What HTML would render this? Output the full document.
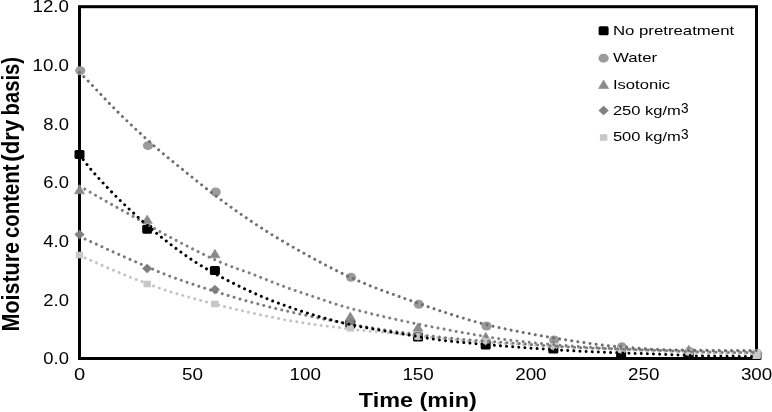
<!DOCTYPE html>
<html><head><meta charset="utf-8"><title>Moisture content vs time</title>
<style>html,body{margin:0;padding:0;background:#fff}body{width:772px;height:412px;overflow:hidden}</style></head>
<body>
<svg width="772" height="412" viewBox="0 0 772 412" style="display:block">
<rect width="772" height="412" fill="#fff"/>
<rect x="79.5" y="6.7" width="677" height="351.8" fill="none" stroke="#000" stroke-width="3"/>
<g><rect x="74.5" y="149.9" width="10" height="9" rx="1.6" fill="#000000"/><rect x="142.2" y="224.7" width="10" height="9" rx="1.6" fill="#000000"/><rect x="209.9" y="266.0" width="10" height="9" rx="1.6" fill="#000000"/><rect x="345.3" y="319.7" width="10" height="9" rx="1.6" fill="#000000"/><rect x="413.0" y="332.6" width="10" height="9" rx="1.6" fill="#000000"/><rect x="480.7" y="340.5" width="10" height="9" rx="1.6" fill="#000000"/><rect x="548.4" y="344.6" width="10" height="9" rx="1.6" fill="#000000"/><rect x="616.1" y="350.8" width="10" height="9" rx="1.6" fill="#000000"/><rect x="683.8" y="351.1" width="10" height="9" rx="1.6" fill="#000000"/><rect x="751.5" y="351.1" width="10" height="9" rx="1.6" fill="#000000"/></g>
<g><ellipse cx="80.3" cy="70.6" rx="5.1" ry="4.45" fill="#9b9b9b"/><ellipse cx="148.0" cy="145.6" rx="5.1" ry="4.45" fill="#9b9b9b"/><ellipse cx="215.7" cy="192.0" rx="5.1" ry="4.45" fill="#9b9b9b"/><ellipse cx="351.1" cy="277.3" rx="5.1" ry="4.45" fill="#9b9b9b"/><ellipse cx="418.8" cy="304.3" rx="5.1" ry="4.45" fill="#9b9b9b"/><ellipse cx="486.5" cy="326.0" rx="5.1" ry="4.45" fill="#9b9b9b"/><ellipse cx="554.2" cy="340.0" rx="5.1" ry="4.45" fill="#9b9b9b"/><ellipse cx="621.9" cy="346.8" rx="5.1" ry="4.45" fill="#9b9b9b"/><ellipse cx="689.6" cy="351.5" rx="5.1" ry="4.45" fill="#9b9b9b"/><ellipse cx="757.3" cy="353.8" rx="5.1" ry="4.45" fill="#9b9b9b"/></g>
<g><path d="M79.5 185.4L84.6 193.8H74.4Z" fill="#8a8a8a" stroke="#8a8a8a" stroke-width="0.6" stroke-linejoin="round"/><path d="M147.2 215.0L152.3 223.4H142.1Z" fill="#8a8a8a" stroke="#8a8a8a" stroke-width="0.6" stroke-linejoin="round"/><path d="M214.9 249.3L220.0 257.7H209.8Z" fill="#8a8a8a" stroke="#8a8a8a" stroke-width="0.6" stroke-linejoin="round"/><path d="M350.3 312.1L355.4 320.5H345.2Z" fill="#8a8a8a" stroke="#8a8a8a" stroke-width="0.6" stroke-linejoin="round"/><path d="M418.0 322.9L423.1 331.3H412.9Z" fill="#8a8a8a" stroke="#8a8a8a" stroke-width="0.6" stroke-linejoin="round"/><path d="M485.7 332.3L490.8 340.7H480.6Z" fill="#8a8a8a" stroke="#8a8a8a" stroke-width="0.6" stroke-linejoin="round"/><path d="M553.4 339.6L558.5 348.0H548.3Z" fill="#8a8a8a" stroke="#8a8a8a" stroke-width="0.6" stroke-linejoin="round"/><path d="M621.1 343.7L626.2 352.1H616.0Z" fill="#8a8a8a" stroke="#8a8a8a" stroke-width="0.6" stroke-linejoin="round"/><path d="M688.8 345.2L693.9 353.6H683.7Z" fill="#8a8a8a" stroke="#8a8a8a" stroke-width="0.6" stroke-linejoin="round"/><path d="M756.5 349.0L761.6 357.4H751.4Z" fill="#8a8a8a" stroke="#8a8a8a" stroke-width="0.6" stroke-linejoin="round"/></g>
<g><path d="M79.5 230.1L84.3 234.5L79.5 238.9L74.7 234.5Z" fill="#808080" stroke="#808080" stroke-width="0.6" stroke-linejoin="round"/><path d="M147.2 264.1L152.0 268.5L147.2 272.9L142.4 268.5Z" fill="#808080" stroke="#808080" stroke-width="0.6" stroke-linejoin="round"/><path d="M214.9 285.2L219.7 289.6L214.9 294.0L210.1 289.6Z" fill="#808080" stroke="#808080" stroke-width="0.6" stroke-linejoin="round"/><path d="M350.3 318.0L355.1 322.4L350.3 326.8L345.5 322.4Z" fill="#808080" stroke="#808080" stroke-width="0.6" stroke-linejoin="round"/><path d="M418.0 331.8L422.8 336.2L418.0 340.6L413.2 336.2Z" fill="#808080" stroke="#808080" stroke-width="0.6" stroke-linejoin="round"/><path d="M485.7 336.5L490.5 340.9L485.7 345.3L480.9 340.9Z" fill="#808080" stroke="#808080" stroke-width="0.6" stroke-linejoin="round"/><path d="M553.4 341.8L558.2 346.2L553.4 350.6L548.6 346.2Z" fill="#808080" stroke="#808080" stroke-width="0.6" stroke-linejoin="round"/><path d="M621.1 345.3L625.9 349.7L621.1 354.1L616.3 349.7Z" fill="#808080" stroke="#808080" stroke-width="0.6" stroke-linejoin="round"/><path d="M688.8 347.6L693.6 352.0L688.8 356.4L684.0 352.0Z" fill="#808080" stroke="#808080" stroke-width="0.6" stroke-linejoin="round"/><path d="M756.5 349.7L761.3 354.1L756.5 358.5L751.7 354.1Z" fill="#808080" stroke="#808080" stroke-width="0.6" stroke-linejoin="round"/></g>
<g><rect x="75.8" y="251.7" width="7.4" height="6.6" fill="#c8c8c8"/><rect x="143.5" y="280.7" width="7.4" height="6.6" fill="#c8c8c8"/><rect x="211.2" y="300.7" width="7.4" height="6.6" fill="#c8c8c8"/><rect x="346.6" y="325.0" width="7.4" height="6.6" fill="#c8c8c8"/><rect x="414.3" y="333.2" width="7.4" height="6.6" fill="#c8c8c8"/><rect x="482.0" y="337.6" width="7.4" height="6.6" fill="#c8c8c8"/><rect x="549.7" y="342.9" width="7.4" height="6.6" fill="#c8c8c8"/><rect x="617.4" y="346.4" width="7.4" height="6.6" fill="#c8c8c8"/><rect x="685.1" y="348.7" width="7.4" height="6.6" fill="#c8c8c8"/><rect x="752.4" y="349.6" width="8.2" height="9.4" fill="#c8c8c8"/></g>
<path d="M79.5 255.5 L85.2 258.0 L90.9 260.5 L96.6 263.0 L102.3 265.5 L107.9 267.9 L113.6 270.3 L119.3 272.7 L125.0 275.1 L130.7 277.4 L136.4 279.6 L142.1 281.7 L147.8 283.9 L153.5 286.0 L159.1 288.0 L164.8 289.9 L170.5 291.8 L176.2 293.5 L181.9 295.1 L187.6 296.8 L193.3 298.4 L199.0 299.9 L204.7 301.5 L210.3 303.0 L216.0 304.4 L221.7 305.9 L227.4 307.3 L233.1 308.7 L238.8 310.0 L244.5 311.3 L250.2 312.6 L255.9 313.9 L261.6 315.1 L267.2 316.3 L272.9 317.4 L278.6 318.5 L284.3 319.6 L290.0 320.7 L295.7 321.6 L301.4 322.6 L307.1 323.5 L312.8 324.3 L318.4 325.1 L324.1 325.8 L329.8 326.5 L335.5 327.1 L341.2 327.8 L346.9 328.6 L352.6 329.3 L358.3 330.0 L364.0 330.6 L369.6 331.1 L375.3 331.6 L381.0 332.1 L386.7 332.7 L392.4 333.2 L398.1 333.8 L403.8 334.4 L409.5 334.9 L415.2 335.5 L420.8 336.1 L426.5 336.7 L432.2 337.3 L437.9 337.8 L443.6 338.4 L449.3 339.0 L455.0 339.6 L460.7 340.2 L466.4 340.8 L472.0 341.3 L477.7 341.7 L483.4 342.1 L489.1 342.5 L494.8 342.8 L500.5 343.2 L506.2 343.5 L511.9 343.9 L517.6 344.2 L523.2 344.5 L528.9 344.9 L534.6 345.2 L540.3 345.5 L546.0 345.8 L551.7 346.1 L557.4 346.4 L563.1 346.7 L568.8 347.0 L574.4 347.3 L580.1 347.6 L585.8 347.9 L591.5 348.2 L597.2 348.5 L602.9 348.7 L608.6 349.0 L614.3 349.3 L620.0 349.5 L625.7 349.8 L631.3 350.1 L637.0 350.3 L642.7 350.6 L648.4 350.8 L654.1 351.0 L659.8 351.2 L665.5 351.4 L671.2 351.6 L676.9 351.8 L682.5 352.0 L688.2 352.1 L693.9 352.4 L699.6 352.9 L705.3 353.3 L711.0 353.5 L716.7 353.6 L722.4 353.7 L728.1 353.7 L733.7 353.8 L739.4 353.8 L745.1 353.9 L750.8 353.9 L756.5 353.9" fill="none" stroke="#c4c4c4" stroke-width="3" stroke-linecap="round" stroke-dasharray="0.01 6.15" stroke-dashoffset="0"/>
<path d="M79.5 236.5 L85.2 239.1 L90.9 241.7 L96.6 244.3 L102.3 246.9 L107.9 249.5 L113.6 252.1 L119.3 254.6 L125.0 257.2 L130.7 259.7 L136.4 262.1 L142.1 264.6 L147.8 267.1 L153.5 269.5 L159.1 271.9 L164.8 274.2 L170.5 276.5 L176.2 278.5 L181.9 280.5 L187.6 282.5 L193.3 284.4 L199.0 286.3 L204.7 288.2 L210.3 290.0 L216.0 291.8 L221.7 293.6 L227.4 295.3 L233.1 297.0 L238.8 298.7 L244.5 300.3 L250.2 301.9 L255.9 303.4 L261.6 304.9 L267.2 306.4 L272.9 307.8 L278.6 309.2 L284.3 310.5 L290.0 311.8 L295.7 313.1 L301.4 314.4 L307.1 315.6 L312.8 316.8 L318.4 318.0 L324.1 319.2 L329.8 320.3 L335.5 321.4 L341.2 322.5 L346.9 323.6 L352.6 324.6 L358.3 325.6 L364.0 326.6 L369.6 327.5 L375.3 328.5 L381.0 329.4 L386.7 330.2 L392.4 331.1 L398.1 331.9 L403.8 332.7 L409.5 333.4 L415.2 334.2 L420.8 334.9 L426.5 335.6 L432.2 336.2 L437.9 336.9 L443.6 337.5 L449.3 338.1 L455.0 338.7 L460.7 339.2 L466.4 339.7 L472.0 340.2 L477.7 340.6 L483.4 341.0 L489.1 341.4 L494.8 341.8 L500.5 342.2 L506.2 342.6 L511.9 343.1 L517.6 343.5 L523.2 343.9 L528.9 344.4 L534.6 344.8 L540.3 345.2 L546.0 345.6 L551.7 346.0 L557.4 346.3 L563.1 346.7 L568.8 347.0 L574.4 347.3 L580.1 347.6 L585.8 347.9 L591.5 348.1 L597.2 348.3 L602.9 348.5 L608.6 348.7 L614.3 348.9 L620.0 349.1 L625.7 349.3 L631.3 349.5 L637.0 349.7 L642.7 349.9 L648.4 350.0 L654.1 350.2 L659.8 350.4 L665.5 350.6 L671.2 350.8 L676.9 351.1 L682.5 351.4 L688.2 351.6 L693.9 351.8 L699.6 352.0 L705.3 352.1 L711.0 352.2 L716.7 352.3 L722.4 352.4 L728.1 352.4 L733.7 352.5 L739.4 352.5 L745.1 352.6 L750.8 352.6 L756.5 352.6" fill="none" stroke="#7a7a7a" stroke-width="3" stroke-linecap="round" stroke-dasharray="0.01 6.15" stroke-dashoffset="0"/>
<path d="M79.5 186.0 L85.2 189.3 L90.9 192.6 L96.6 195.8 L102.3 199.1 L107.9 202.3 L113.6 205.5 L119.3 208.6 L125.0 211.8 L130.7 215.0 L136.4 218.2 L142.1 221.4 L147.8 224.7 L153.5 227.9 L159.1 231.2 L164.8 234.4 L170.5 237.4 L176.2 240.4 L181.9 243.4 L187.6 246.3 L193.3 249.2 L199.0 252.1 L204.7 254.9 L210.3 257.6 L216.0 260.2 L221.7 262.7 L227.4 265.0 L233.1 267.2 L238.8 269.3 L244.5 271.2 L250.2 273.3 L255.9 275.5 L261.6 277.8 L267.2 280.0 L272.9 282.3 L278.6 284.5 L284.3 286.6 L290.0 288.7 L295.7 290.7 L301.4 292.6 L307.1 294.5 L312.8 296.4 L318.4 298.3 L324.1 300.2 L329.8 302.2 L335.5 304.1 L341.2 305.8 L346.9 307.4 L352.6 309.0 L358.3 310.5 L364.0 311.9 L369.6 313.4 L375.3 314.7 L381.0 316.0 L386.7 317.3 L392.4 318.6 L398.1 319.9 L403.8 321.1 L409.5 322.3 L415.2 323.5 L420.8 324.6 L426.5 325.8 L432.2 326.9 L437.9 328.0 L443.6 329.0 L449.3 330.1 L455.0 331.2 L460.7 332.2 L466.4 333.2 L472.0 334.2 L477.7 335.2 L483.4 336.1 L489.1 337.1 L494.8 338.0 L500.5 338.9 L506.2 339.7 L511.9 340.4 L517.6 341.0 L523.2 341.6 L528.9 342.3 L534.6 342.8 L540.3 343.4 L546.0 343.9 L551.7 344.4 L557.4 344.9 L563.1 345.4 L568.8 345.8 L574.4 346.2 L580.1 346.6 L585.8 347.0 L591.5 347.3 L597.2 347.6 L602.9 347.9 L608.6 348.2 L614.3 348.4 L620.0 348.6 L625.7 348.9 L631.3 349.1 L637.0 349.3 L642.7 349.5 L648.4 349.7 L654.1 349.8 L659.8 350.0 L665.5 350.1 L671.2 350.2 L676.9 350.3 L682.5 350.4 L688.2 350.5 L693.9 350.6 L699.6 350.7 L705.3 350.8 L711.0 350.9 L716.7 350.9 L722.4 351.0 L728.1 351.1 L733.7 351.1 L739.4 351.1 L745.1 351.2 L750.8 351.2 L756.5 351.2" fill="none" stroke="#7f7f7f" stroke-width="3" stroke-linecap="round" stroke-dasharray="0.01 6.15" stroke-dashoffset="0"/>
<path d="M79.5 72.3 L85.2 78.0 L90.9 83.9 L96.6 89.9 L102.3 95.9 L107.9 101.9 L113.6 107.7 L119.3 113.4 L125.0 119.0 L130.7 124.4 L136.4 129.8 L142.1 135.1 L147.8 140.2 L153.5 145.3 L159.1 150.2 L164.8 155.0 L170.5 159.7 L176.2 164.4 L181.9 169.0 L187.6 173.6 L193.3 178.2 L199.0 182.8 L204.7 187.3 L210.3 191.7 L216.0 196.1 L221.7 200.4 L227.4 204.6 L233.1 208.7 L238.8 212.8 L244.5 216.7 L250.2 220.6 L255.9 224.4 L261.6 228.1 L267.2 231.7 L272.9 235.3 L278.6 238.7 L284.3 242.1 L290.0 245.4 L295.7 248.7 L301.4 251.9 L307.1 255.0 L312.8 258.2 L318.4 261.2 L324.1 264.3 L329.8 267.2 L335.5 270.1 L341.2 272.9 L346.9 275.6 L352.6 278.2 L358.3 280.8 L364.0 283.2 L369.6 285.6 L375.3 287.8 L381.0 290.0 L386.7 292.1 L392.4 294.1 L398.1 296.1 L403.8 298.2 L409.5 300.2 L415.2 302.2 L420.8 304.2 L426.5 306.2 L432.2 308.1 L437.9 310.1 L443.6 312.0 L449.3 313.8 L455.0 315.6 L460.7 317.4 L466.4 319.1 L472.0 320.8 L477.7 322.4 L483.4 323.9 L489.1 325.3 L494.8 326.7 L500.5 327.9 L506.2 329.1 L511.9 330.3 L517.6 331.4 L523.2 332.5 L528.9 333.5 L534.6 334.6 L540.3 335.6 L546.0 336.6 L551.7 337.6 L557.4 338.5 L563.1 339.5 L568.8 340.3 L574.4 341.2 L580.1 342.0 L585.8 342.8 L591.5 343.6 L597.2 344.4 L602.9 345.1 L608.6 345.7 L614.3 346.2 L620.0 346.7 L625.7 347.2 L631.3 347.7 L637.0 348.2 L642.7 348.6 L648.4 349.0 L654.1 349.3 L659.8 349.6 L665.5 349.8 L671.2 349.9 L676.9 350.0 L682.5 350.1 L688.2 350.2 L693.9 350.2 L699.6 350.3 L705.3 350.3 L711.0 350.4 L716.7 350.4 L722.4 350.5 L728.1 350.5 L733.7 350.5 L739.4 350.6 L745.1 350.6 L750.8 350.6 L756.5 350.6" fill="none" stroke="#6e6e6e" stroke-width="3" stroke-linecap="round" stroke-dasharray="0.01 6.15" stroke-dashoffset="0"/>
<path d="M79.5 154.8 L85.2 162.2 L90.9 169.4 L96.6 175.9 L102.3 182.1 L107.9 188.1 L113.6 194.0 L119.3 199.6 L125.0 205.1 L130.7 210.5 L136.4 215.7 L142.1 220.9 L147.8 225.9 L153.5 230.7 L159.1 235.4 L164.8 239.9 L170.5 244.3 L176.2 248.6 L181.9 252.8 L187.6 256.9 L193.3 260.8 L199.0 264.4 L204.7 267.8 L210.3 271.0 L216.0 274.2 L221.7 277.3 L227.4 280.3 L233.1 283.2 L238.8 286.0 L244.5 288.7 L250.2 291.4 L255.9 293.9 L261.6 296.4 L267.2 298.8 L272.9 301.1 L278.6 303.2 L284.3 305.3 L290.0 307.3 L295.7 309.3 L301.4 311.2 L307.1 313.0 L312.8 314.7 L318.4 316.4 L324.1 318.0 L329.8 319.6 L335.5 321.1 L341.2 322.5 L346.9 323.8 L352.6 325.1 L358.3 326.2 L364.0 327.3 L369.6 328.3 L375.3 329.3 L381.0 330.3 L386.7 331.2 L392.4 332.2 L398.1 333.2 L403.8 334.1 L409.5 335.1 L415.2 336.1 L420.8 337.1 L426.5 338.0 L432.2 338.9 L437.9 339.7 L443.6 340.4 L449.3 341.1 L455.0 341.7 L460.7 342.3 L466.4 342.8 L472.0 343.3 L477.7 343.8 L483.4 344.3 L489.1 344.8 L494.8 345.3 L500.5 345.8 L506.2 346.3 L511.9 346.7 L517.6 347.1 L523.2 347.6 L528.9 348.0 L534.6 348.4 L540.3 348.8 L546.0 349.2 L551.7 349.5 L557.4 349.9 L563.1 350.3 L568.8 350.6 L574.4 350.9 L580.1 351.2 L585.8 351.5 L591.5 351.8 L597.2 352.0 L602.9 352.2 L608.6 352.5 L614.3 352.7 L620.0 352.9 L625.7 353.1 L631.3 353.3 L637.0 353.5 L642.7 353.6 L648.4 353.8 L654.1 354.0 L659.8 354.2 L665.5 354.4 L671.2 354.6 L676.9 354.9 L682.5 355.1 L688.2 355.5 L693.9 355.8 L699.6 356.0 L705.3 356.1 L711.0 356.1 L716.7 356.2 L722.4 356.3 L728.1 356.3 L733.7 356.3 L739.4 356.4 L745.1 356.4 L750.8 356.4 L756.5 356.4" fill="none" stroke="#000000" stroke-width="3" stroke-linecap="round" stroke-dasharray="0.01 6.121" stroke-dashoffset="0"/>
<g font-family="Liberation Sans, sans-serif" font-size="15.8" fill="#000">
<text x="32.5" y="12.3" textLength="36.4" lengthAdjust="spacingAndGlyphs">12.0</text>
<text x="32.5" y="70.9" textLength="36.4" lengthAdjust="spacingAndGlyphs">10.0</text>
<text x="43.3" y="129.5" textLength="25.6" lengthAdjust="spacingAndGlyphs">8.0</text>
<text x="43.3" y="188.2" textLength="25.6" lengthAdjust="spacingAndGlyphs">6.0</text>
<text x="43.3" y="246.8" textLength="25.6" lengthAdjust="spacingAndGlyphs">4.0</text>
<text x="43.3" y="305.5" textLength="25.6" lengthAdjust="spacingAndGlyphs">2.0</text>
<text x="43.3" y="364.1" textLength="25.6" lengthAdjust="spacingAndGlyphs">0.0</text>
<text x="74.0" y="379.5" textLength="11.2" lengthAdjust="spacingAndGlyphs">0</text>
<text x="181.9" y="379.5" textLength="21.0" lengthAdjust="spacingAndGlyphs">50</text>
<text x="289.6" y="379.5" textLength="31.4" lengthAdjust="spacingAndGlyphs">100</text>
<text x="402.4" y="379.5" textLength="31.4" lengthAdjust="spacingAndGlyphs">150</text>
<text x="515.2" y="379.5" textLength="31.4" lengthAdjust="spacingAndGlyphs">200</text>
<text x="628.1" y="379.5" textLength="31.4" lengthAdjust="spacingAndGlyphs">250</text>
<text x="740.9" y="379.5" textLength="31.4" lengthAdjust="spacingAndGlyphs">300</text>
</g>
<text x="358.8" y="407" font-family="Liberation Sans, sans-serif" font-weight="bold" font-size="20" textLength="118" lengthAdjust="spacingAndGlyphs">Time (min)</text>
<text transform="translate(19.4 0) rotate(-90)" y="0" font-family="Liberation Sans, sans-serif" font-weight="bold" font-size="24.4" fill="#000"><tspan x="-331.5" textLength="89.5" lengthAdjust="spacingAndGlyphs">Moisture</tspan> <tspan x="-238.0" textLength="73.4" lengthAdjust="spacingAndGlyphs">content</tspan> <tspan x="-161.7" textLength="42.1" lengthAdjust="spacingAndGlyphs">(dry</tspan> <tspan x="-115.4" textLength="58.4" lengthAdjust="spacingAndGlyphs">basis)</tspan></text>
<g font-family="Liberation Sans, sans-serif" font-size="13.2" fill="#000">
<rect x="598.6" y="26.3" width="10" height="9" rx="1.6" fill="#000000"/>
<text x="612.9" y="35.3" textLength="121.3" lengthAdjust="spacingAndGlyphs">No pretreatment</text>
<ellipse cx="603.6" cy="58.2" rx="5.1" ry="4.45" fill="#9b9b9b"/>
<text x="612.9" y="61.7" textLength="44.3" lengthAdjust="spacingAndGlyphs">Water</text>
<path d="M603.6 80.1L608.7 88.5H598.5Z" fill="#8a8a8a" stroke="#8a8a8a" stroke-width="0.6" stroke-linejoin="round"/>
<text x="612.9" y="88.9" textLength="57.3" lengthAdjust="spacingAndGlyphs">Isotonic</text>
<path d="M603.6 106.1L608.4 110.5L603.6 114.9L598.8 110.5Z" fill="#808080" stroke="#808080" stroke-width="0.6" stroke-linejoin="round"/>
<text x="612.9" y="115"><tspan textLength="68" lengthAdjust="spacingAndGlyphs">250 kg/m</tspan><tspan x="680.9" dy="-2.5" font-size="13.8" textLength="7.6" lengthAdjust="spacingAndGlyphs">3</tspan></text>
<rect x="599.9" y="134.2" width="7.4" height="6.6" fill="#c8c8c8"/>
<text x="612.9" y="141"><tspan textLength="68" lengthAdjust="spacingAndGlyphs">500 kg/m</tspan><tspan x="680.9" dy="-2.5" font-size="13.8" textLength="7.6" lengthAdjust="spacingAndGlyphs">3</tspan></text>
</g>
</svg>
</body></html>
